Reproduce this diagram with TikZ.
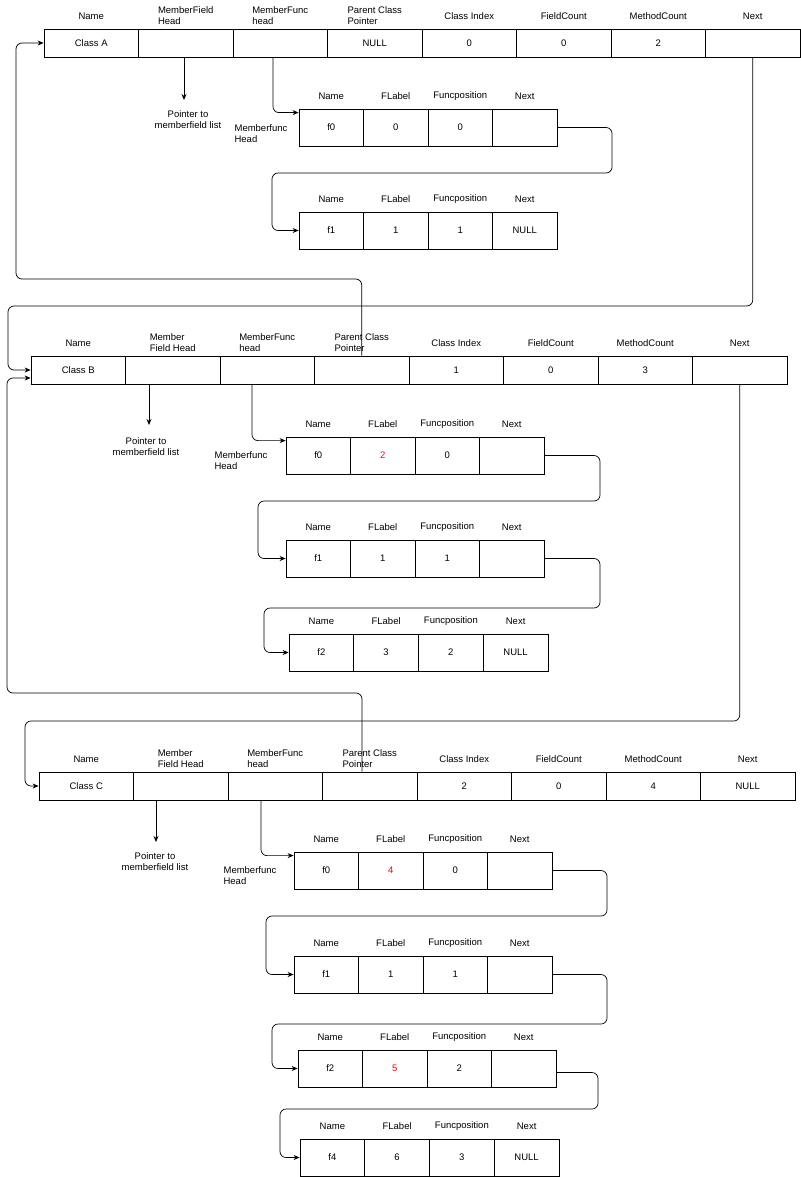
\documentclass[tikz,border=0pt]{standalone}
\usepackage{fontspec}
\setmainfont{Liberation Sans}
\usetikzlibrary{arrows.meta}
\tikzset{
 cell/.style={draw=black,line width=0.8pt,inner sep=0pt,font=\fontsize{9.5}{11}\selectfont},
 hdr/.style={align=left,inner sep=0pt,font=\fontsize{9.5}{11}\selectfont},
 lbl/.style={align=left,inner sep=0pt,font=\fontsize{9.5}{11}\selectfont},
 arr/.style={draw=black,line width=0.7pt,-{Stealth[length=6pt,width=5pt]},rounded corners=6pt},
}
% #1 prefix, #2 x0, #3 ytop, #4 cell width, #5 height, #6 values, #7 headers
\newcommand\myrow[7]{%
 \foreach \v [count=\i] in {#6} {\node[cell,minimum width=#4pt,minimum height=#5pt] (#1-\i) at ({#2+(\i-0.5)*#4},{#3+#5/2}) {\v};}
 \foreach \h [count=\i] in {#7} {\node[hdr] (#1-h\i) at ({#2+(\i-0.5)*#4},{#3-13}) {\h};}
}
\begin{document}
\begin{tikzpicture}[x=1pt,y=-1pt]
\useasboundingbox[fill=white] (0,0) rectangle (800,1177);
% Class A
\myrow{A}{44}{29}{94.5}{28}{Class A,,,NULL,0,0,2,}{Name,{MemberField\\Head},{MemberFunc\\head},{Parent Class\\Pointer},Class Index,FieldCount,MethodCount,Next}
\myrow{Af0}{299}{109}{64.5}{37}{f0,0,0,}{Name,FLabel,Funcposition,Next}
\myrow{Af1}{299}{212}{64.5}{37}{f1,1,1,NULL}{Name,FLabel,Funcposition,Next}
\node[lbl,align=center] (Ap) at (188,120) {Pointer to\\memberfield list};
\node[lbl] (Am) at (261,134) {Memberfunc\\Head};
\draw[arr] (A-2.south -| 184,0) -- (184,100);
\draw[arr] (A-3.south -| 273,0) |- ([yshift=-4pt]Af0-1.north west);
\draw[arr] (Af0-4.east) -| (612,173) -- (272,173) |- (Af1-1.west);
% Class B
\myrow{B}{31}{356}{94.5}{28}{Class B,,,,1,0,3,}{Name,{Member\\Field Head},{MemberFunc\\head},{Parent Class\\Pointer},Class Index,FieldCount,MethodCount,Next}
\myrow{Bf0}{286}{437}{64.5}{37}{f0,\textcolor{red}{2},0,}{Name,FLabel,Funcposition,Next}
\myrow{Bf1}{286}{540}{64.5}{37}{f1,1,1,}{Name,FLabel,Funcposition,Next}
\myrow{Bf2}{289}{634}{64.75}{37}{f2,3,2,NULL}{Name,FLabel,Funcposition,Next}
\node[lbl,align=center] (Bp) at (146,447) {Pointer to\\memberfield list};
\node[lbl] (Bm) at (241,461) {Memberfunc\\Head};
\draw[arr] (B-2.south -| 149,0) -- (149,425);
\draw[arr] (B-3.south -| 252,0) |- ([yshift=-4pt]Bf0-1.north west);
\draw[arr] (Bf0-4.east) -| (600,501) -- (258,501) |- (Bf1-1.west);
\draw[arr] (Bf1-4.east) -| (600,608) -- (264,608) |- (Bf2-1.west);
% Class C
\myrow{C}{39}{772}{94.5}{28}{Class C,,,,2,0,4,NULL}{Name,{Member\\Field Head},{MemberFunc\\head},{Parent Class\\Pointer},Class Index,FieldCount,MethodCount,Next}
\myrow{Cf0}{294}{852}{64.5}{37}{f0,\textcolor{red}{4},0,}{Name,FLabel,Funcposition,Next}
\myrow{Cf1}{294}{956}{64.5}{37}{f1,1,1,}{Name,FLabel,Funcposition,Next}
\myrow{Cf2}{298}{1050}{64.5}{37}{f2,\textcolor{red}{5},2,}{Name,FLabel,Funcposition,Next}
\myrow{Cf4}{300}{1139}{64.75}{37}{f4,6,3,NULL}{Name,FLabel,Funcposition,Next}
\node[lbl,align=center] (Cp) at (155,862) {Pointer to\\memberfield list};
\node[lbl] (Cm) at (250,876) {Memberfunc\\Head};
\draw[arr] (C-2.south -| 156,0) -- (156,842);
\draw[arr] (C-3.south -| 261,0) |- ([yshift=-4pt]Cf0-1.north west);
\draw[arr] (Cf0-4.east) -| (607,916) -- (266,916) |- (Cf1-1.west);
\draw[arr] (Cf1-4.east) -| (607,1024) -- (272,1024) |- (Cf2-1.west);
\draw[arr] ([yshift=-4pt]Cf2-4.east) -| (598,1109) -- (280,1109) |- (Cf4-1.west);
% class links
\draw[arr] (B-4.north) |- (16,279) |- (A-1.west);
\draw[arr] (A-8.south) |- (8,306) |- (B-1.west);
\draw[arr] (C-4.north -| 362,0) |- (7,693) |- ([yshift=-8pt]B-1.west);
\draw[arr] (B-8.south) |- (25,721) |- (C-1.west);
\end{tikzpicture}
\end{document}
